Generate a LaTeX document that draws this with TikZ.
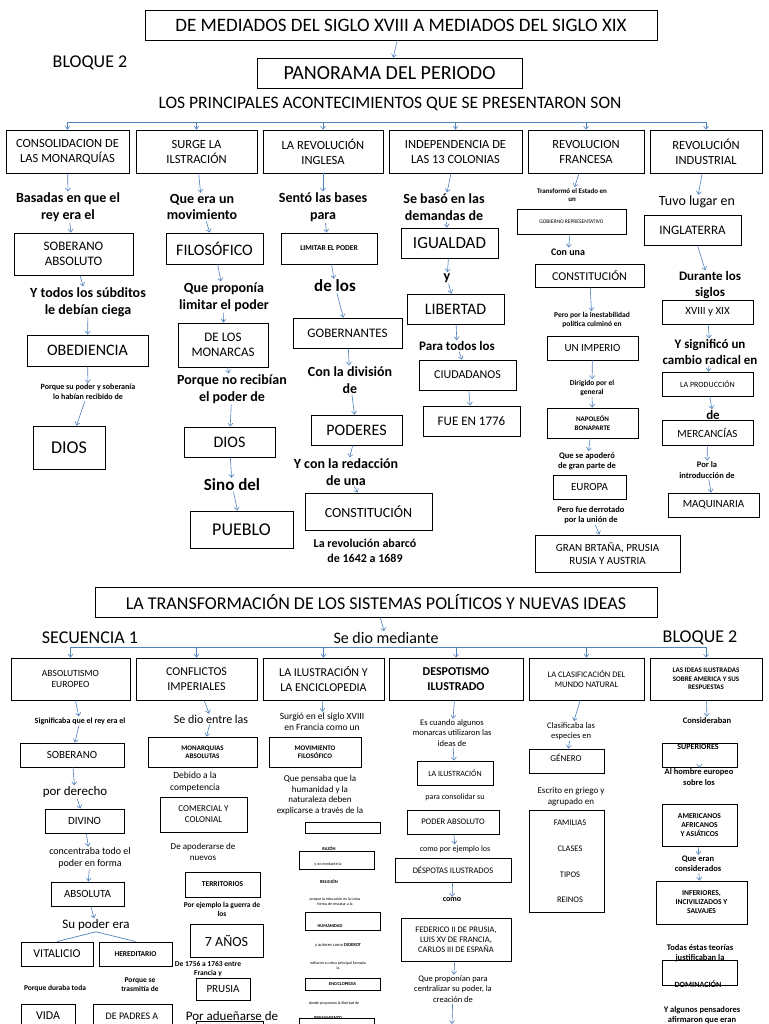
\documentclass[tikz,border=0pt]{standalone}
\usepackage{fontspec}
\setmainfont{Carlito}
\usetikzlibrary{arrows.meta,fit}
\definecolor{ablue}{RGB}{79,129,189}
\newcommand\fs[1]{\fontsize{#1}{\dimexpr#1pt*6/5\relax}\selectfont}
% box: name, x1,y1,x2,y2, fontsize, text
\newcommand\bx[7]{\node[fit={(#2,#3)(#4,#5)},inner sep=0pt,draw=black,line width=0.9pt] (#1) {};
 \node[align=center,inner sep=0pt,font=\fs{#6}] at (#1.center) {#7};}
\newcommand\tx[5]{\node[align=center,inner sep=1pt,font=\fs{#4}] (#1) at (#2,#3) {#5};}
\tikzset{arr/.style={draw=ablue,line width=0.6pt,-{Straight Barb[length=3pt,width=5pt]}},
 bl/.style={draw=ablue,line width=0.7pt}}
\begin{document}
\begin{tikzpicture}[x=1pt,y=-1pt]
\useasboundingbox (0,0) rectangle (768,1024);
\clip (0,0) rectangle (768,1024);
\fill[white] (0,0) rectangle (768,1024);
% ===== top section =====
\bx{T}{145}{10}{657}{40}{19}{DE MEDIADOS DEL SIGLO XVIII A MEDIADOS DEL SIGLO XIX}
\tx{bq}{90}{63}{18}{BLOQUE 2}
\bx{P}{257}{58}{522}{88}{20}{PANORAMA DEL PERIODO}
\draw[arr] (T) -- (P);
\tx{lp}{390}{104}{17.5}{LOS PRINCIPALES ACONTECIMIENTOS QUE SE PRESENTARON SON}
\bx{r1}{6}{130}{129}{173}{12.5}{CONSOLIDACION DE\\LAS MONARQUÍAS}
\bx{r2}{136}{130}{257}{173}{12.5}{SURGE LA\\ILSTRACIÓN}
\bx{r3}{263}{130}{383}{173}{12.5}{LA REVOLUCIÓN\\INGLESA}
\bx{r4}{389}{130}{522}{173}{12.5}{INDEPENDENCIA DE\\LAS 13 COLONIAS}
\bx{r5}{528}{130}{644}{173}{12.5}{REVOLUCION\\FRANCESA}
\bx{r6}{650}{130}{762}{173}{12.5}{REVOLUCIÓN\\INDUSTRIAL}
\draw[bl] (r1.north |- 0,122) -- (r6.north |- 0,122);
\foreach \r in {r1,r2,r3,r4,r5,r6}{\draw[arr] (\r.north |- 0,122) -- (\r.north);}
% col1
\tx{a1}{68}{207}{14}{\bfseries Basadas en que el\\\bfseries rey era el}
\bx{b1}{14}{233}{133}{275}{13}{SOBERANO\\ABSOLUTO}
\tx{a2}{88}{302}{14}{\bfseries Y todos los súbditos\\\bfseries le debían ciega}
\bx{b2}{27}{335}{148}{366}{16}{OBEDIENCIA}
\tx{a3}{88}{392}{8}{\bfseries Porque su poder y soberanía\\\bfseries lo habían recibido de}
\bx{b3}{33}{426}{105}{469}{18}{DIOS}
\draw[arr] (r1)--(a1); \draw[arr] (a1)--(b1); \draw[arr] (b1)--(a2); \draw[arr] (a2)--(b2); \draw[arr] (b2)--(a3); \draw[arr] (a3)--(b3);
% col2
\tx{d1}{202}{207}{14}{\bfseries Que era un\\\bfseries movimiento}
\bx{e1}{166}{233}{263}{264}{16}{FILOSÓFICO}
\tx{d2}{224}{297}{14}{\bfseries Que proponía\\\bfseries limitar el poder}
\bx{e2}{178}{323}{268}{367}{13}{DE LOS\\MONARCAS}
\tx{d3}{232}{389}{14}{\bfseries Porque no recibían\\\bfseries el poder de}
\bx{e3}{184}{427}{275}{457}{16}{DIOS}
\tx{d4}{232}{485}{17}{\bfseries Sino del}
\bx{e4}{190}{511}{293}{548}{18}{PUEBLO}
\draw[arr] (r2)--(d1); \draw[arr] (d1)--(e1); \draw[arr] (e1)--(d2); \draw[arr] (d2)--(e2); \draw[arr] (e2)--(d3); \draw[arr] (d3)--(e3); \draw[arr] (e3)--(d4); \draw[arr] (d4)--(e4);
% col3
\tx{f1}{323}{207}{14}{\bfseries Sentó las bases\\\bfseries para}
\bx{g1}{281}{233}{377}{264}{7.5}{\bfseries LIMITAR EL PODER}
\tx{f2}{335}{286}{17}{\bfseries de los}
\bx{g2}{293}{318}{402}{348}{13}{GOBERNANTES}
\tx{f3}{350}{380}{14}{\bfseries Con la división\\\bfseries de}
\bx{g3}{311}{415}{402}{445}{16}{PODERES}
\tx{f4}{346}{472}{14}{\bfseries Y con la redacción\\\bfseries de una}
\bx{g4}{305}{493}{432}{530}{14}{CONSTITUCIÓN}
\tx{f5}{365}{551}{12}{\bfseries La revolución abarcó\\\bfseries de  1642 a 1689}
\draw[arr] (r3)--(f1); \draw[arr] (f1)--(g1); \draw[arr] (g1)--(f2); \draw[arr] (f2)--(g2); \draw[arr] (g2)--(f3); \draw[arr] (f3)--(g3); \draw[arr] (g3)--(f4); \draw[arr] (f4)--(g4);
% col4
\tx{h1}{444}{207}{14}{\bfseries Se basó en las\\\bfseries demandas de}
\bx{i1}{401}{228}{498}{258}{17}{IGUALDAD}
\tx{h2}{447}{278}{14}{\bfseries y}
\bx{i2}{407}{294}{504}{324}{16}{LIBERTAD}
\tx{h3}{457}{346}{13}{\bfseries Para todos los}
\bx{i3}{419}{360}{516}{390}{12}{CIUDADANOS}
\bx{i4}{423}{406}{520}{436}{13}{FUE EN 1776}
\draw[arr] (r4)--(h1); \draw[arr] (h1)--(i1); \draw[arr] (i1)--(h2); \draw[arr] (h2)--(i2); \draw[arr] (i2)--(h3); \draw[arr] (h3)--(i3); \draw[arr] (i3)--(i4);
% col5
\tx{j1}{572}{195}{7}{\bfseries Transformó el Estado en\\\bfseries un}
\bx{k1}{517}{209}{626}{234}{5.5}{GOBIERNO REPRESENTATIVO}
\tx{j2}{568}{252}{10}{\bfseries Con una}
\bx{k2}{535}{264}{644}{287}{12}{CONSTITUCIÓN}
\tx{j3}{592}{320}{7.5}{\bfseries Pero por la inestabilidad\\\bfseries política culminó en}
\bx{k3}{547}{336}{638}{360}{11}{UN IMPERIO}
\tx{j4}{592}{388}{7.5}{\bfseries Dirigido por el\\\bfseries general}
\bx{k4}{547}{408}{638}{438}{7}{\bfseries NAPOLEÓN\\\bfseries BONAPARTE}
\tx{j5}{587}{461}{8.5}{\bfseries Que se apoderó\\\bfseries de gran parte de}
\bx{k5}{553}{475}{626}{499}{11}{EUROPA}
\tx{j6}{591}{515}{8.5}{\bfseries Pero fue derrotado\\\bfseries por la unión de}
\bx{k6}{535}{535}{680}{572}{11}{GRAN BRTAÑA, PRUSIA\\RUSIA Y AUSTRIA}
\draw[arr] (r5)--(j1); \draw[arr] (k1)--(j2); \draw[arr] (k2)--(j3); \draw[arr] (k3)--(j4); \draw[arr] (j4)--(k4); \draw[arr] (k4)--(j5); \draw[arr] (j6)--(k6);
% col6
\tx{l1}{697}{202}{14}{Tuvo lugar en}
\bx{m1}{644}{215}{741}{245}{13}{INGLATERRA}
\tx{l2}{710}{285}{13}{\bfseries Durante los\\\bfseries siglos}
\bx{m2}{662}{300}{753}{324}{11}{XVIII y XIX}
\tx{l3}{710}{352}{13}{\bfseries Y significó un\\\bfseries cambio radical en}
\bx{m3}{662}{372}{753}{396}{8}{LA PRODUCCIÓN}
\tx{l4}{713}{415}{13}{\bfseries de}
\bx{m4}{662}{420}{753}{445}{11}{MERCANCÍAS}
\tx{l5}{707}{470}{8.5}{\bfseries Por la\\\bfseries introducción de}
\bx{m5}{668}{493}{759}{517}{11}{MAQUINARIA}
\draw[arr] (r6)--(l1); \draw[arr] (m1)--(l2); \draw[arr] (m2)--(l3); \draw[arr] (l3)--(m3); \draw[arr] (m3)--(l4); \draw[arr] (m4)--(l5); \draw[arr] (l5)--(m5);
% ===== second section =====
\bx{S}{95}{587}{657}{617}{18}{LA TRANSFORMACIÓN DE LOS SISTEMAS POLÍTICOS Y NUEVAS IDEAS}
\tx{sd}{386}{638}{16}{Se dio mediante}
\draw[arr] (S) -- (sd);
\tx{sq}{90}{638}{18}{SECUENCIA 1}
\tx{bq2}{700}{638}{18}{BLOQUE 2}
\bx{q1}{11}{658}{130}{700}{9.5}{ABSOLUTISMO\\EUROPEO}
\bx{q2}{136}{658}{257}{700}{12}{CONFLICTOS\\IMPERIALES}
\bx{q3}{263}{658}{384}{700}{12}{LA ILUSTRACIÓN Y\\LA ENCICLOPEDIA}
\bx{q4}{389}{658}{523}{700}{12}{\bfseries DESPOTISMO\\\bfseries ILUSTRADO}
\bx{q5}{529}{658}{644}{700}{8.5}{LA CLASIFICACIÓN DEL\\MUNDO NATURAL}
\bx{q6}{650}{658}{762}{700}{7}{\bfseries LAS IDEAS ILUSTRADAS\\\bfseries SOBRE AMERICA Y SUS\\\bfseries RESPUESTAS}
\draw[bl] (q1.north |- 0,647) -- (q6.north |- 0,647);
\foreach \r in {q1,q2,q3,q4,q5,q6}{\draw[arr] (\r.north |- 0,647) -- (\r.north);}
% col1
\tx{u1}{80}{721}{8}{\bfseries Significaba que el rey era el}
\bx{v1}{20}{743}{124}{767}{11}{SOBERANO}
\tx{u2}{75}{792}{13}{por derecho}
\bx{v2}{45}{809}{124}{833}{11}{DIVINO}
\tx{u3}{90}{858}{10}{concentraba todo el\\poder en forma}
\bx{v3}{51}{882}{124}{906}{11}{ABSOLUTA}
\tx{u4}{96}{925}{13}{Su poder era}
\bx{v4}{21}{942}{93}{966}{12}{VITALICIO}
\bx{v5}{99}{942}{172}{966}{7.5}{\bfseries HEREDITARIO}
\draw[bl] (u4.south) -- (v4.north); \draw[bl] (u4.south) -- (v5.north);
\tx{u5}{55}{988}{7.5}{\bfseries Porque duraba toda}
\tx{u6}{140}{985}{7.5}{\bfseries Porque se\\\bfseries trasmitía de}
\draw[line width=0.9pt] (21,1030) -- (21,1004) -- (75,1004) -- (75,1030);
\node[font=\fs{12}] (v6) at (48,1016) {VIDA};
\draw[line width=0.9pt] (93,1030) -- (93,1004) -- (172,1004) -- (172,1030);
\node[font=\fs{10}] (v7) at (132,1016) {DE PADRES A};
\draw[arr] (q1)--(u1); \draw[arr] (u1)--(v1); \draw[arr] (v1)--(u2); \draw[arr] (u2)--(v2); \draw[arr] (v2)--(u3); \draw[arr] (u3)--(v3); \draw[arr] (v3)--(u4);
% col2
\tx{w1}{211}{719}{12}{Se dio entre  las}
\bx{x1}{148}{737}{257}{767}{7}{\bfseries MONARQUIAS\\\bfseries ABSOLUTAS}
\tx{w2}{195}{782}{9.5}{Debido a la\\competencia}
\bx{x2}{160}{797}{247}{832}{9}{COMERCIAL Y\\COLONIAL}
\tx{w3}{203}{852}{9}{De apoderarse de\\nuevos}
\bx{x3}{185}{872}{260}{897}{7.5}{\bfseries TERRITORIOS}
\tx{w4}{222}{909}{7.5}{\bfseries Por ejemplo la guerra de\\\bfseries los}
\bx{x4}{190}{924}{263}{957}{14}{7 AÑOS}
\tx{w5}{208}{969}{7.5}{\bfseries De 1756 a 1763 entre\\\bfseries Francia y}
\bx{x5}{196}{978}{250}{1000}{11}{PRUSIA}
\tx{w6}{232}{1016}{13}{Por adueñarse de}
\draw[line width=0.9pt] (196,1030) -- (196,1021) -- (263,1021) -- (263,1030);
\draw[arr] (q2)--(w1); \draw[arr] (w1)--(x1);
% col3
\tx{y1}{322}{722}{9.5}{Surgió en el siglo XVIII\\en Francia como un}
\bx{z1}{269}{737}{361}{767}{7}{\bfseries MOVIMIENTO\\\bfseries FILOSÓFICO}
\tx{y2}{320}{795}{9}{Que pensaba que la\\humanidad y la\\naturaleza deben\\explicarse a través  de la}
\draw[line width=0.8pt] (305,822) rectangle (380,833);
\tx{y3}{329}{849}{4.5}{\bfseries RAZÓN}
\draw[line width=0.8pt] (299,851) rectangle (374,869);
\tx{y4}{328}{864}{4}{y no mediante la}
\tx{y5}{329}{882}{4.5}{\bfseries RELIGIÓN}
\tx{y6}{335}{902}{4}{porque la educación es la única\\forma de rescatar a la}
\draw[line width=0.8pt] (305,912) rectangle (380,930);
\tx{y7}{330}{926}{4.5}{\bfseries HUMANIDAD}
\tx{y8}{338}{945}{4.5}{y autores como \bfseries DIDEROT}
\tx{y9}{338}{966}{4}{editaron su obra principal llamada\\la}
\bx{z2}{305}{978}{380}{990}{4.5}{\bfseries ENCICLOPEDIA}
\tx{y10}{334}{1003}{4}{donde proponían la libertad de}
\draw[line width=0.8pt] (299,1030) -- (299,1018) -- (374,1018) -- (374,1030);
\tx{y11}{328}{1018}{4.5}{\bfseries PENSAMIENTO}
\draw[arr] (q3)--(y1);
% col4
\tx{aa1}{452}{733}{8.5}{Es cuando algunos\\monarcas utilizaron las\\ideas de}
\bx{ab1}{417}{761}{493}{785}{8}{LA ILUSTRACIÓN}
\tx{aa2}{455}{797}{8}{para consolidar su}
\bx{ab2}{407}{810}{499}{834}{8.5}{PODER ABSOLUTO}
\tx{aa3}{455}{849}{8}{como por ejemplo los}
\bx{ab3}{395}{858}{511}{882}{8.5}{DÉSPOTAS ILUSTRADOS}
\tx{aa4}{452}{900}{8}{\bfseries como}
\bx{ab4}{401}{918}{511}{961}{8.5}{FEDERICO II DE PRUSIA,\\LUIS XV DE FRANCIA,\\CARLOS III DE ESPAÑA}
\tx{aa5}{453}{989}{8.5}{Que proponían para\\centralizar su poder, la\\creación de}
\coordinate (aa6) at (452,1024);
\draw[arr] (q4)--(aa1); \draw[arr] (aa1)--(ab1); \draw[arr] (ab2)--(aa3); \draw[arr] (ab3)--(aa4); \draw[arr] (ab4)--(aa5); \draw[arr] (aa5)--(aa6);
% col5
\tx{ba1}{571}{731}{8.5}{Clasificaba las\\especies en}
\bx{bb1}{529}{749}{604}{773}{9}{}
\node[font=\fs{9}] at (566,758) {GÉNERO};
\tx{ba2}{571}{797}{9}{Escrito en griego y\\agrupado en}
\bx{bb2}{529}{810}{604}{912}{8.5}{}
\node[font=\fs{8.5}] at (570,823) {FAMILIAS};
\node[font=\fs{8.5}] at (570,849) {CLASES};
\node[font=\fs{8.5}] at (570,875) {TIPOS};
\node[font=\fs{8.5}] at (570,900) {REINOS};
\draw[arr] (q5)--(ba1); \draw[arr] (ba1)--(bb1);
% col6
\tx{ca1}{707}{721}{8.5}{\bfseries Consideraban}
\bx{cb1}{662}{743}{737}{767}{8}{}
\node[font=\fs{8}\bfseries] at (698,747) {SUPERIORES};
\tx{ca2}{699}{777}{8.5}{\bfseries Al hombre europeo\\\bfseries sobre los}
\bx{cb2}{662}{804}{737}{846}{7.5}{\bfseries AMERICANOS\\\bfseries AFRICANOS\\\bfseries Y ASIÁTICOS}
\tx{ca3}{698}{864}{8.5}{\bfseries Que eran\\\bfseries considerados}
\bx{cb3}{656}{881}{747}{924}{7.5}{\bfseries INFERIORES,\\\bfseries INCIVILIZADOS Y\\\bfseries SALVAJES}
\tx{ca4}{700}{953}{8.5}{\bfseries Todas éstas teorías\\\bfseries justificaban la}
\bx{cb4}{662}{960}{737}{985}{8}{}
\node[font=\fs{8}\bfseries] at (698,984) {DOMINACIÓN};
\tx{ca5}{702}{1015}{8.5}{\bfseries Y algunos pensadores\\\bfseries afirmaron que eran}
\draw[arr] (q6)--(ca1); \draw[arr] (cb1)--(ca2); \draw[arr] (cb2)--(ca3); \draw[arr] (ca3)--(cb3);
\end{tikzpicture}
\end{document}
